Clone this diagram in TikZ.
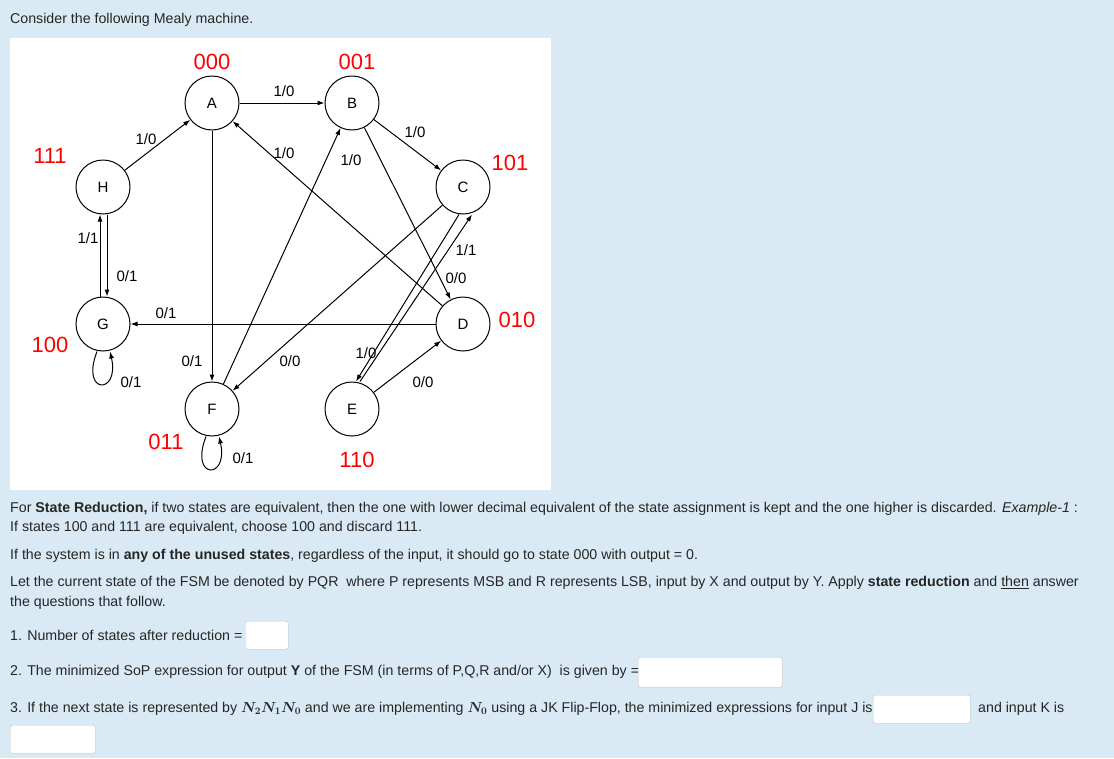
\documentclass[tikz,border=0pt]{standalone}
\usepackage{fontspec}
\setmainfont{Liberation Sans}
\usetikzlibrary{arrows.meta}
\definecolor{bgc}{RGB}{217,234,244}
\begin{document}
\begin{tikzpicture}[x=1pt,y=-1pt,
  st/.style={circle,draw,line width=1pt,minimum size=54pt,inner sep=0pt,font=\fontsize{15}{17}\selectfont},
  tr/.style={draw,-{Latex[length=7pt,width=5pt]},line width=1pt},
  lb/.style={font=\fontsize{15}{17}\selectfont,inner sep=0pt},
  code/.style={text=red,font=\fontsize{22}{24}\selectfont,inner sep=0pt},
  txt/.style={anchor=west,inner sep=0pt,font=\fontsize{14.2}{16}\selectfont,text=black!85},
  box/.style={draw=black!25,fill=white,rounded corners=2pt,anchor=north west}]
\useasboundingbox (0,0) rectangle (1114,758);
\fill[bgc] (0,0) rectangle (1114,758);
\fill[white] (10,38) rectangle (551,490);
\node[txt] (t0) at (10,20) {Consider the following Mealy machine.};
% states
\node[st] (A) at (212,103) {A};
\node[st] (B) at (352,103) {B};
\node[st] (C) at (463,187) {C};
\node[st] (H) at (103,187) {H};
\node[st] (G) at (103,324) {G};
\node[st] (D) at (463,324) {D};
\node[st] (F) at (212,409) {F};
\node[st] (E) at (352,409) {E};
% codes
\node[code] (cA) at (212,62) {000};
\node[code] (cB) at (357,62) {001};
\node[code] (cH) at (50,156) {111};
\node[code] (cC) at (510,163) {101};
\node[code] (cD) at (517,320) {010};
\node[code] (cG) at (50,345) {100};
\node[code] (cF) at (166,442) {011};
\node[code] (cE) at (357,460) {110};
% transitions
\draw[tr] (A) -- (B);
\draw[tr] (H) -- (A);
\draw[tr] (B) -- (C);
\draw[tr] (D) -- (A);
\draw[tr] (F) -- (B);
\draw[tr] (B) -- (D);
\draw[tr] (C) -- (F);
\draw[tr] ([xshift=-4pt]C.south) -- ([xshift=4pt]E.north);
\draw[tr] ([xshift=8pt]E.north) -- ([xshift=9pt]C.south);
\draw[tr] (E) -- (D);
\draw[tr] (D) -- (G);
\draw[tr] (A) -- (F);
\draw[tr] ([xshift=4pt]H.south) -- ([xshift=4pt]G.north);
\draw[tr] ([xshift=-3pt]G.north) -- ([xshift=-3pt]H.south);
\draw[tr] ([xshift=-6pt]G.south) .. controls (80,395) and (120,395) .. ([xshift=7pt]G.south);
\draw[tr] ([xshift=-6pt]F.south) .. controls (189,480) and (229,480) .. ([xshift=7pt]F.south);
% labels
\node[lb] (l1) at (284,91) {1/0};
\node[lb] (l2) at (146,139) {1/0};
\node[lb] (l3) at (284,153) {1/0};
\node[lb] (l4) at (351,160) {1/0};
\node[lb] (l5) at (415,132) {1/0};
\node[lb] (l6) at (466,250) {1/1};
\node[lb] (l7) at (456,278) {0/0};
\node[lb] (l8) at (88,238) {1/1};
\node[lb] (l9) at (127,276) {0/1};
\node[lb] (l10) at (166,313) {0/1};
\node[lb] (l11) at (192,361) {0/1};
\node[lb] (l12) at (290,361) {0/0};
\node[lb] (l13) at (366,353) {1/0};
\node[lb] (l14) at (423,382) {0/0};
\node[lb] (l15) at (131,382) {0/1};
\node[lb] (l16) at (243,458) {0/1};
% text
\node[txt] (t1) at (10,509) {For \textbf{State Reduction,} if two states are equivalent, then the one with lower decimal equivalent of the state assignment is kept and the one higher is discarded. \textit{Example-1} :};
\node[txt] (t2) at (10,528) {If states 100 and 111 are equivalent, choose 100 and discard 111.};
\node[txt] (t3) at (10,556) {If the system is in \textbf{any of the unused states}, regardless of the input, it should go to state 000 with output = 0.};
\node[txt] (t4) at (10,583) {Let the current state of the FSM be denoted by PQR\ \ where P represents MSB and R represents LSB, input by X and output by Y. Apply \textbf{state reduction} and \underline{then} answer};
\node[txt] (t5) at (10,603) {the questions that follow.};
\node[txt] (t6) at (10,635) {1. Number of states after reduction =};
\node[txt] (t7) at (10,672) {2. The minimized SoP expression for output \textbf{Y} of the FSM (in terms of P,Q,R and/or X)\ \ is given by =};
\node[txt] (t8) at (10,709) {3. If the next state is represented by {\Large\boldmath$N_2N_1N_0$} and we are implementing {\Large\boldmath$N_0$} using a JK Flip-Flop, the minimized expressions for input J is};
\node[txt] (t9) at (978,709) {and input K is};
\node[box,minimum width=43pt,minimum height=28pt] (b1) at (245,621) {};
\node[box,minimum width=144pt,minimum height=30pt] (b2) at (638,657) {};
\node[box,minimum width=97pt,minimum height=28pt] (b3) at (873,695) {};
\node[box,minimum width=85pt,minimum height=28pt] (b4) at (10,725) {};
\end{tikzpicture}
\end{document}
